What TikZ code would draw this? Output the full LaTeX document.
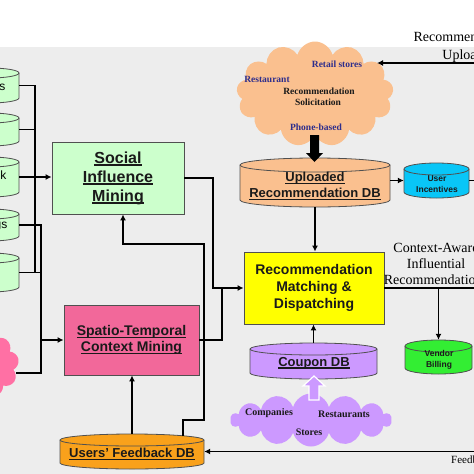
\documentclass[tikz,border=0pt]{standalone}
\usepackage{fontspec}
\setmainfont{Liberation Serif}
\setsansfont{Liberation Sans}
\usetikzlibrary{arrows.meta,shapes.symbols}
\definecolor{bggray}{HTML}{EDEDED}
\definecolor{lgreen}{HTML}{CCFFCC}
\definecolor{pinkbox}{HTML}{F2689A}
\definecolor{pinkcl}{HTML}{FF70A4}
\definecolor{peach}{HTML}{FAC08F}
\definecolor{ybox}{HTML}{FFFF00}
\definecolor{cyandb}{HTML}{09C6F7}
\definecolor{vgreen}{HTML}{33EE33}
\definecolor{lav}{HTML}{CC99FF}
\definecolor{orangedb}{HTML}{F9A11B}
\definecolor{edgegray}{HTML}{505050}
\definecolor{cltext}{HTML}{2E2E8C}
\definecolor{dtext}{HTML}{1A1A1A}
\newcommand\myul[1]{\leavevmode\setbox0\hbox{#1}\rlap{\rule[-2.4pt]{\wd0}{1.1pt}}\box0}
\newcommand\dbcyl[7]{% name x1 y1 x2 y2 ry fill
  \pgfmathsetmacro\cylrx{(#4-(#2))/2}%
  \filldraw[cylbord,fill=#7] (#2,#3+#6) -- (#2,#5-#6) arc[start angle=180,end angle=0,x radius=\cylrx,y radius=#6] -- (#4,#3+#6) arc[start angle=0,end angle=-180,x radius=\cylrx,y radius=#6] -- cycle;
  \draw[cylbord] (#2,#3+#6) arc[start angle=180,end angle=0,x radius=\cylrx,y radius=#6];
  \node[inner sep=0pt,minimum width={#4-(#2)},minimum height={#5-(#3)}] (#1) at ({(#2+#4)/2},{(#3+#5)/2}) {};
}
\tikzset{
  cylbord/.style={draw=edgegray,line width=0.8pt},
  box/.style={draw=edgegray,line width=0.9pt,inner sep=0pt,align=center,text=dtext},
  conn/.style={line width=1.5pt,black},
  arr/.style={-{Latex[length=6pt,width=6pt]}},
  dbsf/.style={font=\sffamily\bfseries\fontsize{13}{15.5}\selectfont},
  cltxt/.style={font=\bfseries\fontsize{9.5}{11}\selectfont,inner sep=0pt},
}
\begin{document}
\begin{tikzpicture}[x=1pt,y=1pt,yscale=-1]
\useasboundingbox (0,0) rectangle (474,474);
\fill[bggray] (0,47) rectangle (474,474);
\coordinate (redge) at (474,0);
\coordinate (busA) at (35,0);
\coordinate (busB) at (41,0);
% clouds
\node[cloud,cloud puffs=13,aspect=1.5,fill=peach,minimum width=157,minimum height=105,inner sep=0pt] (pcloud) at (315,94) {};
\node[cloud,cloud puffs=9,aspect=1,fill=pinkcl,minimum width=70,minimum height=66,inner sep=0pt] (pinkc) at (-16,365) {};
\node[cloud,cloud puffs=14,aspect=3,fill=lav,minimum width=161,minimum height=53,inner sep=0pt] (lcloud) at (311,420) {};
\coordinate (pinkout) at (16,373);
\coordinate (pcin) at (377,63);
% cloud texts
\node[cltxt,text=cltext] (t1) at (337,64) {Retail stores};
\node[cltxt,text=cltext] (t2) at (267,79) {Restaurant};
\node[cltxt,text=dtext] (t3) at (319,91) {Recommendation};
\node[cltxt,text=dtext] (t4) at (318,102) {Solicitation};
\node[cltxt,text=cltext] (t5) at (316,127) {Phone-based};
\node[cltxt,text=dtext,font=\bfseries\fontsize{10}{12}\selectfont] (t6) at (269,413) {Companies};
\node[cltxt,text=dtext,font=\bfseries\fontsize{10}{12}\selectfont] (t7) at (344,414) {Restaurants};
\node[cltxt,text=dtext,font=\bfseries\fontsize{10}{12}\selectfont] (t8) at (309,432) {Stores};
% left cylinders
\dbcyl{c1}{-40}{68}{19}{103}{5}{lgreen}
\dbcyl{c2}{-40}{113}{19}{146}{5}{lgreen}
\dbcyl{c3}{-40}{157}{19}{197}{5}{lgreen}
\dbcyl{c4}{-40}{209}{19}{241}{5}{lgreen}
\dbcyl{c5}{-40}{253}{19}{292}{5}{lgreen}
\node[anchor=east,inner sep=0pt,font=\sffamily\fontsize{12}{14}\selectfont] (l1) at (5.5,87) {s};
\node[anchor=east,inner sep=0pt,font=\sffamily\fontsize{12}{14}\selectfont] (l3) at (6.5,175) {k};
\node[anchor=east,inner sep=0pt,font=\sffamily\fontsize{12}{14}\selectfont] (l4) at (7.5,227) {gs};
% other cylinders
\dbcyl{updb}{240}{158}{390}{207}{7}{peach}
\dbcyl{ui}{404}{163}{469}{198}{6}{cyandb}
\dbcyl{vb}{405}{340}{472}{374}{6}{vgreen}
\dbcyl{coupon}{250}{343}{377}{379}{6}{lav}
\dbcyl{fbdb}{60}{434}{204}{469}{6}{orangedb}
\node[dbsf,align=center,text=dtext,inner sep=0pt] (updbt) at (315,186) {\myul{Uploaded}\\\myul{Recommendation DB}};
\node[font=\sffamily\bfseries\fontsize{8.5}{11}\selectfont,align=center,text=dtext,inner sep=0pt] (uit) at (437,184) {User\\Incentives};
\node[font=\sffamily\bfseries\fontsize{8.5}{11}\selectfont,align=center,text=dtext,inner sep=0pt] (vbt) at (439,360) {Vendor\\Billing};
\node[dbsf,text=dtext,inner sep=0pt] (coupont) at (314,363) {\myul{Coupon DB}};
\node[dbsf,text=dtext,inner sep=0pt] (fbdbt) at (132,454) {\myul{Users' Feedback DB}};
% boxes
\node[box,fill=lgreen,minimum width=132,minimum height=72,font=\sffamily\bfseries\fontsize{16}{19}\selectfont] (social) at (118,178) {\myul{Social}\\\myul{Influence}\\\myul{Mining}};
\node[box,fill=pinkbox,minimum width=135,minimum height=70,font=\sffamily\bfseries\fontsize{14}{16}\selectfont] (spatio) at (131.5,340) {\myul{Spatio-Temporal}\\\myul{Context Mining}};
\node[box,fill=ybox,minimum width=140,minimum height=72,font=\sffamily\bfseries\fontsize{14}{17}\selectfont] (rec) at (314,288) {Recommendation\\Matching \&\\Dispatching};
% right texts
\node[align=center,inner sep=0pt,font=\fontsize{14}{16}\selectfont] (cair) at (436,264) {Context-Aware\\Influential\\Recommendations};
\node[align=center,inner sep=0pt,font=\fontsize{14}{18}\selectfont] (ruload) at (463,47) {Recommendation\\Upload};
\node[anchor=west,inner sep=0pt,font=\fontsize{11}{13}\selectfont] (fbl) at (451,460) {Feedback};
% connectors left
\draw[conn] (c1.east) -| (c5.east -| busA);
\draw[conn] (c2.east) -- (c2.east -| busA);
\draw[conn,arr] (c3.east) -- (c3.east -| social.west);
\draw[conn] (c5.east) -- (c5.east -| busB);
\draw[conn] (c4.east) -| (pinkout -| busB) -- (pinkout);
\draw[conn,arr] (spatio.west -| busB) -- (spatio.west);
% to rec
\coordinate (j1) at (213,288);
\coordinate (j2) at (222,288);
\draw[conn] (spatio.east) -| (j2);
\draw[conn,arr] (social.east) -| (j1) -- (rec.west);
% feedback
\coordinate (fbtop2) at (183,436);
\coordinate (fbk1) at (204,420);
\coordinate (fbk2) at (123,244);
\draw[conn,arr] (fbtop2) |- (fbk1) |- (fbk2) -- (fbk2 |- social.south);
\draw[conn,arr] (fbdb.north) -- (fbdb.north |- spatio.south);
% right side
\draw[conn,arr] (updb.south) -- (updb.south |- rec.north);
\draw[conn,arr] (ui.west -| updb.east) -- (ui.west);
\draw[conn] (ui.east) -- (ui.east -| redge);
\draw[conn] (rec.east) -- (rec.east -| redge);
\draw[conn,arr] (rec.east -| vb.north) -- (vb.north);
\draw[conn,arr] (coupon.north) -- (coupon.north |- rec.south);
\draw[conn,arr] (fbdb.east -| redge) -- (fbdb.east);
\draw[conn,arr] (pcin -| redge) -- (pcin);
% block arrows
\fill[black] (310,135) -- (319,135) -- (319,153) -- (323,153) -- (314.5,162) -- (306,153) -- (310,153) -- cycle;
\filldraw[fill=lav,draw=white,line width=1.2pt] (309,400) -- (319,400) -- (319,386) -- (325,386) -- (314,376) -- (303,386) -- (309,386) -- cycle;
\end{tikzpicture}
\end{document}
